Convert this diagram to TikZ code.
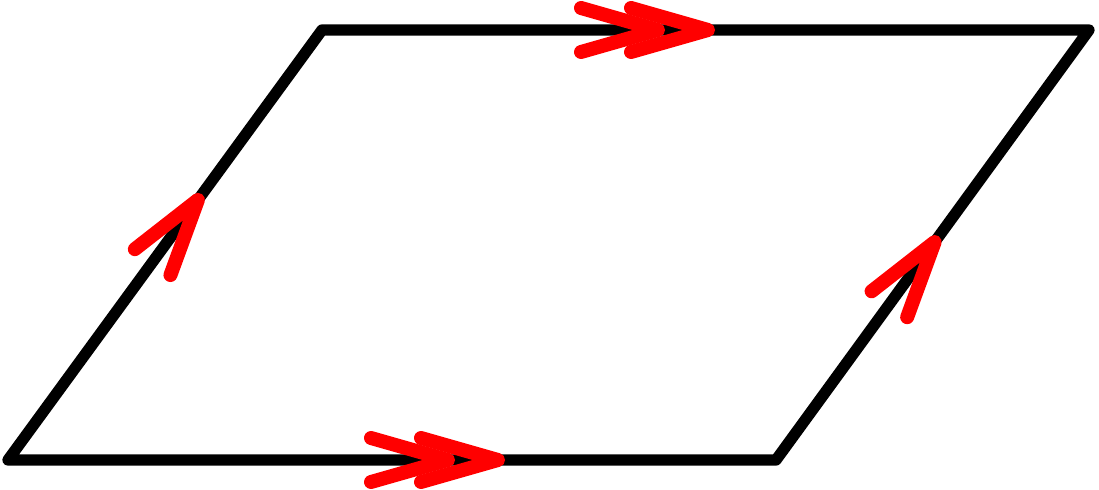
\documentclass[tikz,border=0pt]{standalone}
\usetikzlibrary{calc}
\tikzset{
  edge/.style={draw=black, line width=8.5pt, line join=round, line cap=round},
  chevron/.style={draw=red, line width=10.5pt, line join=round, line cap=round},
  chev/.pic={\draw[chevron] (-77,22) -- (0,0) -- (-77,-22);}
}
\begin{document}
\begin{tikzpicture}[x=0.75pt,y=0.75pt]
\useasboundingbox (0,0) rectangle (1099,489);
\coordinate (A) at (8,29);
\coordinate (B) at (776,29);
\coordinate (C) at (1089,459);
\coordinate (D) at (322,459);
\draw[edge] (A) -- (B) -- (C) -- (D) -- cycle;
% bottom double chevron
\pic at (448,29) {chev};
\pic at (498,29) {chev};
% top double chevron
\pic at (658,459) {chev};
\pic at (708,459) {chev};
% side chevrons
\coordinate (L) at ($(A)!0.605!(D)$);
\coordinate (R) at ($(B)!0.507!(C)$);
\pic[rotate=53.95] at (L) {chev};
\pic[rotate=53.95] at (R) {chev};
\end{tikzpicture}
\end{document}
